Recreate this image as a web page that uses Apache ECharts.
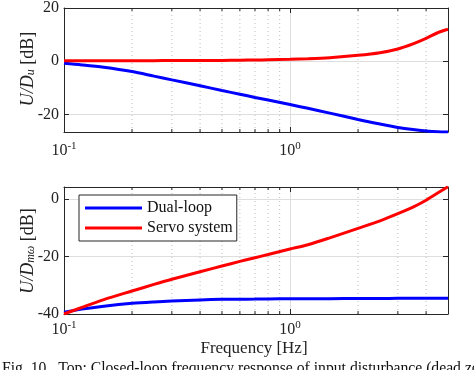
<!DOCTYPE html>
<html>
<head>
<meta charset="utf-8">
<script src="https://cdn.jsdelivr.net/npm/echarts@6/dist/echarts.min.js"></script>
<style>
html,body{margin:0;padding:0;background:#fff;}
#c{width:474px;height:370px;}
</style>
</head>
<body>
<div id="c"></div>
<script>
// ---- data ----
const freqTop = [0.1, 0.12, 0.15, 0.2, 0.25, 0.3, 0.4, 0.5, 0.6, 0.7, 0.8, 1, 1.2, 1.5, 2, 2.5, 3, 3.5, 4, 4.5, 5];
const dualTop = [-0.8, -1.4, -2.3, -3.9, -5.6, -7.0, -9.2, -11.0, -12.4, -13.6, -14.6, -16.3, -17.7, -19.5, -21.9, -23.6, -24.9, -25.7, -26.2, -26.5, -26.6];
const servoTop = [0.2, 0.2, 0.2, 0.2, 0.22, 0.25, 0.28, 0.3, 0.38, 0.45, 0.55, 0.7, 0.9, 1.3, 2.2, 3.2, 4.6, 6.5, 8.6, 10.7, 12.0];
const freqBot = [0.1, 0.12, 0.15, 0.2, 0.25, 0.3, 0.4, 0.5, 0.6, 0.7, 0.8, 1, 1.2, 1.5, 2, 2.5, 3, 3.5, 4, 4.5, 5];
const dualBot = [-39.4, -38.3, -37.3, -36.3, -35.8, -35.5, -35.1, -34.9, -34.85, -34.8, -34.75, -34.7, -34.68, -34.65, -34.6, -34.58, -34.55, -34.53, -34.52, -34.5, -34.5];
const servoBot = [-40, -37.7, -35.0, -32.0, -29.7, -27.9, -25.3, -23.3, -21.7, -20.4, -19.3, -17.4, -15.9, -13.5, -10.2, -7.6, -5.1, -2.8, -0.4, 2.1, 4.3];
const minorX = [0.2, 0.3, 0.4, 0.5, 0.6, 0.7, 0.8, 0.9, 2, 3, 4];
const yTicksTop = [-20, 0, 20];
const yTicksBot = [-40, -20, 0];
const xRange = [0.1, 5];
const yRangeTop = [-26.6, 20];
const yRangeBot = [-40, 4.2];
const seriesNames = ['Dual-loop', 'Servo system'];
const caption = 'Fig. 10.  Top: Closed-loop frequency response of input disturbance (dead zone';

const FONT = '"Liberation Serif", "DejaVu Serif", serif';
const AX = '#262626';
const BLUE = '#0000ff';
const RED = '#ff0000';

function pairs(xs, ys){ return xs.map((x,i)=>[x, ys[i]]); }

function xAxisDef(gi, labelMargin, pos){
  const show = pos === 'bottom';
  return {
    type:'log', logBase:10, gridIndex:gi, position:pos, min:xRange[0], max:xRange[1],
    axisLine:{show:true, onZero:false, lineStyle:{color:AX, width:1}},
    axisTick:{show:true, inside:true, length:5, lineStyle:{color:AX}},
    splitLine:{show:show, lineStyle:{color:'#dedede', width:1}},
    minorTick:{show:false}, minorSplitLine:{show:false},
    axisLabel:{show:show, margin:labelMargin, fontFamily:FONT, color:'#222',
      formatter:function(v){
        const e = Math.round(Math.log10(v));
        if (Math.abs(Math.log10(v)-e) > 1e-6) return '';
        return '{b|10}{s|' + e + '}';
      },
      rich:{b:{fontFamily:FONT, fontSize:16, color:'#222'}, s:{fontFamily:FONT, fontSize:11, color:'#222', padding:[0,0,9,0]}}
    }
  };
}
function yAxisDef(gi, range, ticks, pos){
  const show = pos === 'left';
  return {
    type:'value', gridIndex:gi, position:pos, min:range[0], max:range[1],
    axisLine:{show:true, onZero:false, lineStyle:{color:AX, width:1}},
    axisTick:{show:true, inside:true, length:5, customValues:ticks, lineStyle:{color:AX}},
    splitLine:{show:show, lineStyle:{color:'#dedede', width:1}},
    axisLabel:{show:show, customValues:ticks, margin:5, fontFamily:FONT, fontSize:16, color:'#222'}
  };
}
function minorSeries(gi, yr){
  return {
    type:'custom', xAxisIndex: gi*2, yAxisIndex: gi*2, silent:true, z:1,
    data: minorX.map(v=>[v]), encode:{x:0},
    renderItem:function(params, api){
      const x = api.value(0);
      const p0 = api.coord([x, yr[0]]);
      const p1 = api.coord([x, yr[1]]);
      return {type:'group', children:[
        {type:'line', shape:{x1:p0[0], y1:p0[1], x2:p1[0], y2:p1[1]}, style:{stroke:'#bdbdbd', lineWidth:1, lineDash:[1,3]}},
        {type:'line', shape:{x1:p0[0], y1:p0[1], x2:p0[0], y2:p0[1]-3}, style:{stroke:AX, lineWidth:1}},
        {type:'line', shape:{x1:p1[0], y1:p1[1], x2:p1[0], y2:p1[1]+3}, style:{stroke:AX, lineWidth:1}}
      ]};
    }
  };
}
function lineSeries(name, gi, xs, ys, color){
  return {
    name:name, type:'line', xAxisIndex: gi*2, yAxisIndex: gi*2, data:pairs(xs, ys),
    showSymbol:false, symbol:'none', smooth:0.3, z:5,
    lineStyle:{color:color, width:3}, itemStyle:{color:color}
  };
}

const chart = echarts.init(document.getElementById('c'), null, {renderer:'canvas'});
chart.setOption({
  backgroundColor:'#fff',
  animation:false,
  grid:[
    {left:64, right:26, top:6, height:126, containLabel:false},
    {left:64, right:26, top:187, height:127, containLabel:false}
  ],
  xAxis:[
    xAxisDef(0, 9, 'bottom'), xAxisDef(0, 9, 'top'),
    xAxisDef(1, 6, 'bottom'), xAxisDef(1, 6, 'top')
  ],
  yAxis:[
    yAxisDef(0, yRangeTop, yTicksTop, 'left'), yAxisDef(0, yRangeTop, yTicksTop, 'right'),
    yAxisDef(1, yRangeBot, yTicksBot, 'left'), yAxisDef(1, yRangeBot, yTicksBot, 'right')
  ],
  legend:{
    data:seriesNames.map(n=>({name:n, icon:'rect'})), orient:'vertical', left:79, top:195,
    padding:[3,4,3,6], itemGap:0, itemWidth:57, itemHeight:3,
    backgroundColor:'#fff', borderColor:AX, borderWidth:1, borderRadius:0,
    textStyle:{fontFamily:FONT, fontSize:16, color:'#111', lineHeight:20, height:20},
    selectedMode:false
  },
  series:[
    minorSeries(0, yRangeTop),
    minorSeries(1, yRangeBot),
    lineSeries(seriesNames[0], 0, freqTop, dualTop, BLUE),
    lineSeries(seriesNames[1], 0, freqTop, servoTop, RED),
    lineSeries(seriesNames[0], 1, freqBot, dualBot, BLUE),
    lineSeries(seriesNames[1], 1, freqBot, servoBot, RED)
  ],
  graphic:[
    {type:'text', x:28, y:69, rotation:Math.PI/2,
      style:{text:'{i|U/D}{s|u} [dB]', align:'center', verticalAlign:'middle', fill:'#222',
        rich:{i:{fontFamily:FONT, fontStyle:'italic', fontSize:18, fill:'#222'}, s:{fontFamily:FONT, fontStyle:'italic', fontSize:12, fill:'#222', padding:[6,0,0,0]}},
        font:'18px ' + FONT}},
    {type:'text', x:28, y:251, rotation:Math.PI/2,
      style:{text:'{i|U/D}{s|mω} [dB]', align:'center', verticalAlign:'middle', fill:'#222',
        rich:{i:{fontFamily:FONT, fontStyle:'italic', fontSize:18, fill:'#222'}, s:{fontFamily:FONT, fontStyle:'italic', fontSize:12, fill:'#222', padding:[6,0,0,0]}},
        font:'18px ' + FONT}},
    {type:'text', x:254, y:349, style:{text:'Frequency [Hz]', align:'center', verticalAlign:'middle', fill:'#222', font:'17px ' + FONT}},
    {type:'text', x:2, y:361, style:{text:caption, align:'left', verticalAlign:'top', fill:'#111', font:'15.7px ' + FONT}}
  ]
});
</script>
</body>
</html>
